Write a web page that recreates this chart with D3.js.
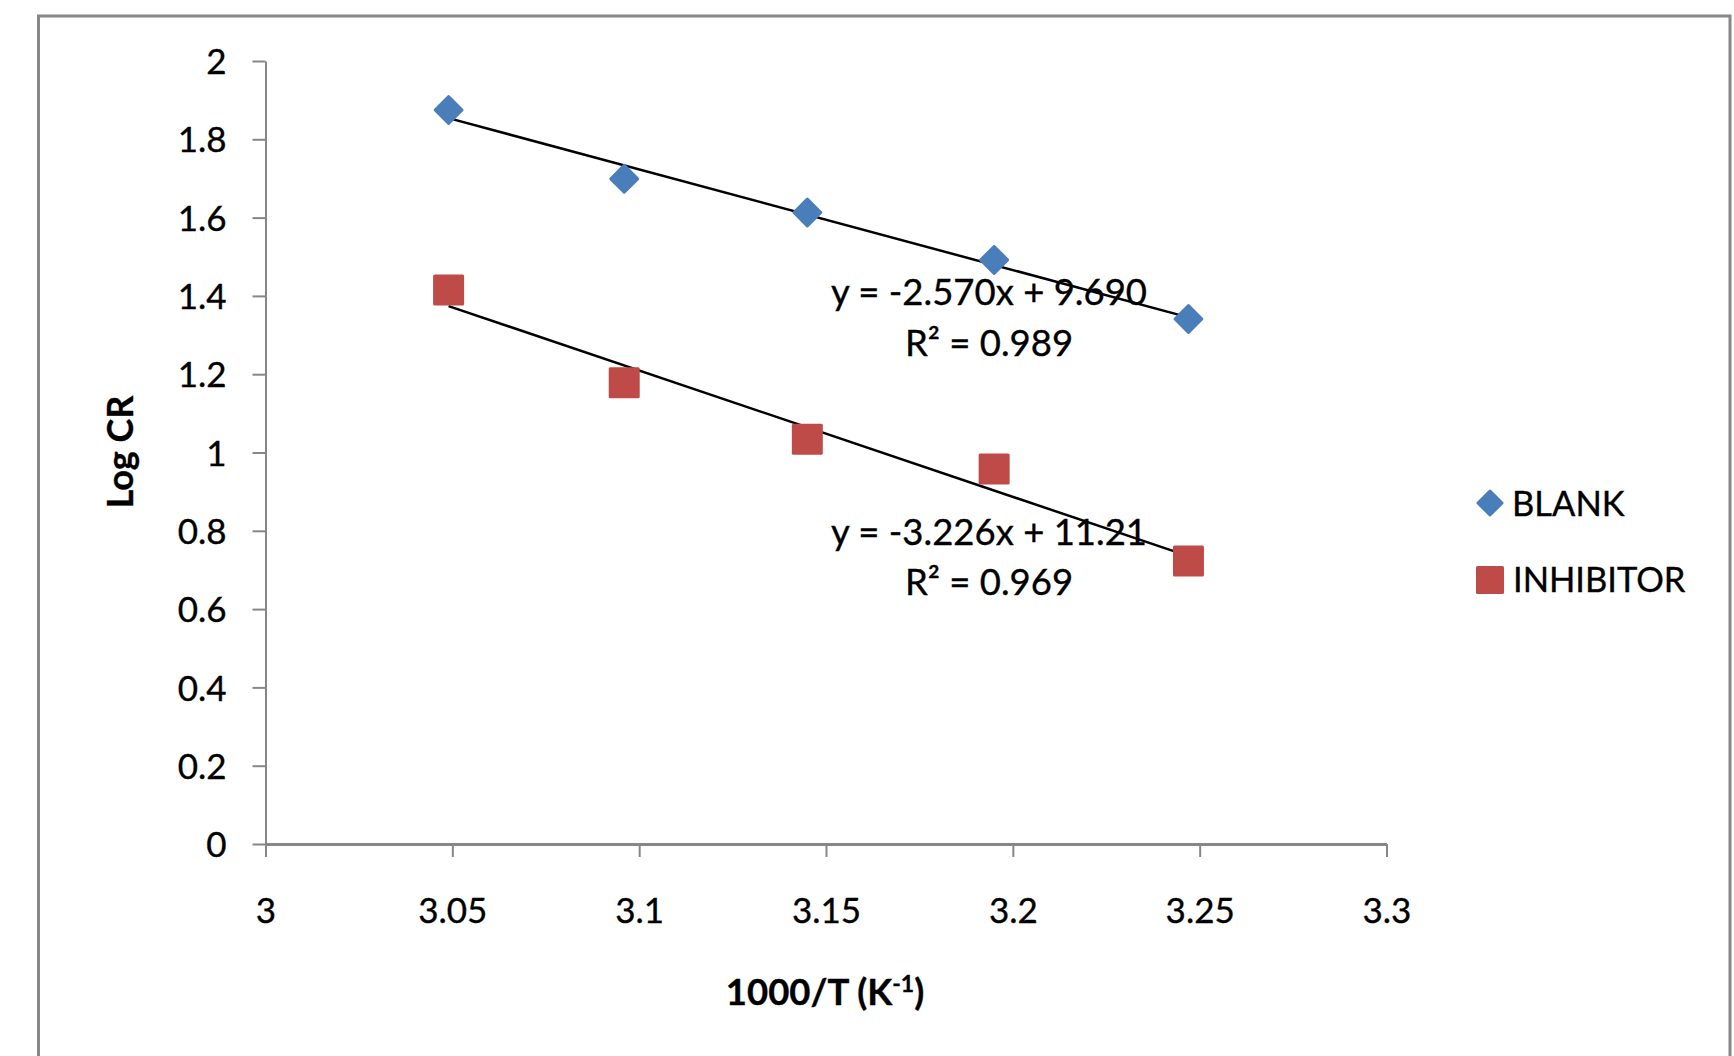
<!DOCTYPE html>
<html>
<head>
<meta charset="utf-8">
<script src="https://cdn.jsdelivr.net/npm/d3@7"></script>
<style>
  html, body { margin: 0; padding: 0; background: #fff; }
  svg { display: block; }
  text { font-family: Lato, "Open Sans", sans-serif; fill: #000; stroke: #000; stroke-width: 0.35px; }
</style>
</head>
<body>
<svg id="chart" width="1734" height="1056"></svg>
<script>
// ---- data ----
const seriesNames = ["BLANK", "INHIBITOR"];
const xValues = [3.049, 3.096, 3.145, 3.195, 3.247];
const blankValues = [1.875, 1.699, 1.613, 1.492, 1.341];
const inhibitorValues = [1.415, 1.178, 1.034, 0.958, 0.723];
const trendSlopes = [-2.570, -3.226];
const trendIntercepts = [9.690, 11.21];
const equationLabels = ["y = -2.570x + 9.690", "y = -3.226x + 11.21"];
const r2Labels = ["R² = 0.989", "R² = 0.969"];
const xTickValues = [3, 3.05, 3.1, 3.15, 3.2, 3.25, 3.3];
const xTickLabels = ["3", "3.05", "3.1", "3.15", "3.2", "3.25", "3.3"];
const yTickValues = [0, 0.2, 0.4, 0.6, 0.8, 1, 1.2, 1.4, 1.6, 1.8, 2];
const yTickLabels = ["0", "0.2", "0.4", "0.6", "0.8", "1", "1.2", "1.4", "1.6", "1.8", "2"];
const colors = ["#4A7EBB", "#BE4B48"];

const svg = d3.select("#chart");

// outer frame (bottom edge is off-page)
svg.append("rect")
  .attr("x", 38.5).attr("y", 16)
  .attr("width", 1691.5).attr("height", 1100)
  .attr("fill", "#fff").attr("stroke", "#878787").attr("stroke-width", 3);

const x = d3.scaleLinear().domain([3, 3.3]).range([265.5, 1386.5]);
const y = d3.scaleLinear().domain([0, 2]).range([844, 61]);

const axisColor = "#878787";

// y axis
const gy = svg.append("g").attr("transform", `translate(${x(3)},0)`)
  .call(d3.axisLeft(y).tickValues(yTickValues)
    .tickFormat((d, i) => yTickLabels[i]).tickSize(13).tickSizeOuter(0).tickPadding(26));
gy.select(".domain").attr("stroke", axisColor).attr("stroke-width", 2);
gy.selectAll(".tick line").attr("stroke", axisColor).attr("stroke-width", 2);
gy.selectAll(".tick text").attr("font-size", 35).attr("font-family", "Lato").attr("fill", "#000").attr("dy", "0.36em");

// x axis
const gx = svg.append("g").attr("transform", `translate(0,${y(0)})`)
  .call(d3.axisBottom(x).tickValues(xTickValues)
    .tickFormat((d, i) => xTickLabels[i]).tickSize(13).tickSizeOuter(0));
gx.select(".domain").attr("stroke", axisColor).attr("stroke-width", 3);
gx.selectAll(".tick line").attr("stroke", axisColor).attr("stroke-width", 2);
gx.selectAll(".tick text").attr("font-size", 35).attr("font-family", "Lato").attr("fill", "#000")
  .attr("y", 79).attr("dy", 0);

// axis titles
const xt = svg.append("text").attr("x", 825).attr("y", 1005)
  .attr("text-anchor", "middle").attr("font-size", 36.5).attr("font-weight", "bold");
xt.append("tspan").text("1000/T (K");
xt.append("tspan").text("-1").attr("font-size", 23).attr("dy", -13);
xt.append("tspan").text(")").attr("dy", 13);

svg.append("text").attr("transform", "translate(133,452) rotate(-90)")
  .attr("text-anchor", "middle").attr("font-size", 36).attr("font-weight", "bold").text("Log CR");

// trend lines
const xMin = d3.min(xValues), xMax = d3.max(xValues);
trendSlopes.forEach((m, i) => {
  const b = trendIntercepts[i];
  svg.append("line")
    .attr("x1", x(xMin)).attr("y1", y(m * xMin + b))
    .attr("x2", x(xMax)).attr("y2", y(m * xMax + b))
    .attr("stroke", "#000").attr("stroke-width", 2.5);
});

// markers
const blankData = xValues.map((v, i) => ({ x: v, y: blankValues[i] }));
const inhData = xValues.map((v, i) => ({ x: v, y: inhibitorValues[i] }));

const diamondSide = 22;
svg.append("g").selectAll("rect").data(blankData).join("rect")
  .attr("x", -diamondSide / 2).attr("y", -diamondSide / 2)
  .attr("width", diamondSide).attr("height", diamondSide).attr("rx", 1.5)
  .attr("transform", d => `translate(${x(d.x)},${y(d.y)}) rotate(45)`)
  .attr("fill", colors[0]);

const sq = 31;
svg.append("g").selectAll("rect").data(inhData).join("rect")
  .attr("x", d => x(d.x) - sq / 2).attr("y", d => y(d.y) - sq / 2)
  .attr("width", sq).attr("height", sq).attr("rx", 1.5)
  .attr("fill", colors[1]);

// equation labels
const eqBaselines = [[305, 356], [545, 595]];
equationLabels.forEach((t, i) => {
  svg.append("text").attr("x", 989).attr("y", eqBaselines[i][0])
    .attr("text-anchor", "middle").attr("font-size", 36.5).text(t);
  svg.append("text").attr("x", 989).attr("y", eqBaselines[i][1])
    .attr("text-anchor", "middle").attr("font-size", 36.5).text(r2Labels[i]);
});

// legend
const lg = svg.append("g");
const lgSide = 20;
lg.append("rect").attr("x", -lgSide / 2).attr("y", -lgSide / 2)
  .attr("width", lgSide).attr("height", lgSide).attr("rx", 1.5)
  .attr("transform", "translate(1490,503) rotate(45)").attr("fill", colors[0]);
lg.append("text").attr("x", 1512).attr("y", 516).attr("font-size", 34.5).text(seriesNames[0]);
lg.append("rect").attr("x", 1476).attr("y", 566).attr("width", 28).attr("height", 28).attr("rx", 1.5)
  .attr("fill", colors[1]);
lg.append("text").attr("x", 1513).attr("y", 592).attr("font-size", 34.5).text(seriesNames[1]);
</script>
</body>
</html>
